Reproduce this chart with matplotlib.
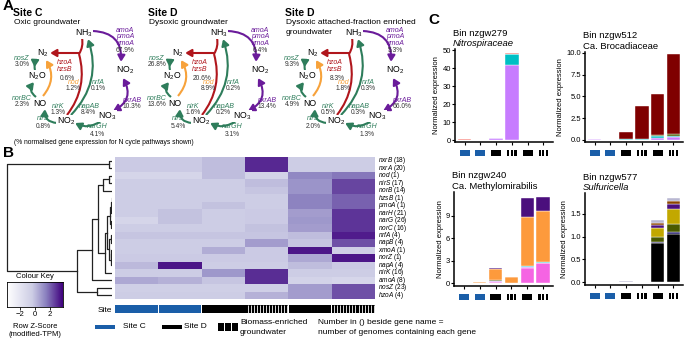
import numpy as np
import matplotlib
matplotlib.use('Agg')
import matplotlib.pyplot as plt
import matplotlib.transforms as mtransforms
from matplotlib.patches import FancyArrowPatch, Rectangle
from matplotlib.colors import LinearSegmentedColormap

plt.rcParams['font.family'] = ['Liberation Sans', 'DejaVu Sans']
plt.rcParams['mathtext.fontset'] = 'custom'
plt.rcParams['mathtext.rm'] = 'Liberation Sans'
plt.rcParams['mathtext.it'] = 'Liberation Sans:italic'

W, H = 685, 339

# ---------------- panel A data (% normalised expression)
path_genes = ['amoA\npmoA\nxmoA', 'nosZ', 'hzoA\nhzsB', 'nod', 'nrfA', 'nxrAB',
              'norBC', 'nirK', 'napAB', 'nirS', 'narGH']
pct_site_c = [67.9, 3.0, 0.6, 1.2, 0.1, 10.3, 2.3, 1.3, 8.4, 0.8, 4.1]
pct_site_d = [6.4, 26.8, 20.6, 8.9, 0.2, 13.4, 13.6, 1.6, 0.2, 5.4, 3.1]
pct_site_d_att = [5.3, 9.3, 8.3, 1.8, 0.3, 66.0, 4.9, 0.5, 0.3, 2.0, 1.3]

# ---------------- panel B data (row z-scores)
hm_genes = ['nxrB', 'nxrA', 'nod', 'nirS', 'norB', 'hzsB', 'pmoA', 'narH', 'narG', 'norC',
            'nrfA', 'napB', 'xmoA', 'norZ', 'napA', 'nirK', 'amoA', 'nosZ', 'hzoA']
hm_counts = [18, 20, 1, 17, 14, 1, 1, 21, 26, 16, 4, 4, 1, 1, 4, 16, 8, 23, 4]
hm_z = [
    [-0.3, -0.3, 0.0, 3.0, -0.4, -0.4],
    [-0.3, -0.3, 0.0, 3.0, -0.4, -0.4],
    [-0.9, -0.9, 0.0, -0.8, 1.3, 1.6],
    [-0.4, -0.4, -0.4, 0.0, 1.0, 2.5],
    [-0.4, -0.4, -0.4, -0.2, 1.0, 2.5],
    [-0.4, -0.4, -0.4, -0.4, 1.4, 2.0],
    [-0.4, -0.4, -0.1, -0.4, 1.4, 2.0],
    [-0.4, -0.1, -0.4, -0.3, 0.8, 2.8],
    [-0.9, -0.1, -0.4, -0.3, 0.9, 2.8],
    [-0.4, -0.4, -0.4, -0.1, 0.8, 2.8],
    [-0.2, -0.2, -0.2, -0.2, 0.0, 3.2],
    [-0.4, -0.4, -0.4, 0.8, -0.2, 2.3],
    [-0.4, -0.4, 0.4, -0.3, 3.3, -0.5],
    [-0.3, -0.3, -0.3, -0.3, 0.5, 3.3],
    [0.1, 3.3, -0.4, -0.4, 0.0, -0.3],
    [-0.4, -0.4, 0.9, 2.9, -0.4, -0.4],
    [0.5, 0.3, -0.2, 2.9, -0.8, -1.0],
    [-0.5, -0.5, -0.5, -0.5, 0.8, 2.3],
    [-0.4, -0.4, -0.4, 0.3, 0.8, 2.3],
]
sample_site = ['C', 'C', 'D', 'D', 'D', 'D']
sample_enriched = [False, False, False, True, False, True]

# dendrogram: (height, left, right)
row_tree = (10.5, (0.3, 'nxrB', 'nxrA'),
            (3.5,
             (2.0,
              (1.4,
               (0.9, (0.3, 'nod', 'nirS'), 'norB'),
               (0.7,
                (0.5,
                 (0.25, (0.1, (0.05, 'hzsB', 'pmoA'), 'narH'), (0.08, 'narG', 'norC')),
                 (0.3, (0.12, 'nrfA', 'napB'), (0.15, (0.06, 'xmoA', 'norZ'), 'napA'))),
                'nirK')),
              'amoA'),
             (1.5, 'nosZ', 'hzoA')))

# ---------------- panel C data
g279 = ['amoA', 'hao', 'nirK', 'nxrA', 'nxrB']
c279 = ['#f8766d', '#8fffc8', '#7cae00', '#00bfc4', '#c77cff']
v279 = [[0.4, 0.05, 0.0, 0.4, 0.0, 0.0],
        [0.0, 0.05, 0.0, 0.0, 0.05, 0.05],
        [0.0, 0.0, 0.05, 0.1, 0.0, 0.0],
        [0.0, 0.0, 0.1, 6.2, 0.05, 0.05],
        [0.0, 0.0, 1.1, 41.5, 0.0, 0.0]]

g512 = ['hzoA', 'norC', 'nxrA', 'nxrB']
c512 = ['#7f0000', '#4a5a00', '#00bfc4', '#c77cff']
v512 = [[0.0, 0.0, 0.85, 3.7, 4.75, 9.2],
        [0.0, 0.0, 0.0, 0.02, 0.1, 0.15],
        [0.02, 0.05, 0.03, 0.08, 0.2, 0.2],
        [0.1, 0.0, 0.03, 0.05, 0.25, 0.3]]

g240 = ['nirS', 'nod', 'norZ', 'nxrA', 'nxrB', 'pmoA']
c240 = ['#4b0f7d', '#fd9a3c', '#4a5a00', '#00bfc4', '#c77cff', '#f564e3']
v240 = [[0.0, 0.0, 0.1, 0.0, 2.5, 1.8],
        [0.1, 0.2, 1.5, 0.9, 6.6, 6.8],
        [0.0, 0.0, 0.05, 0.0, 0.05, 0.05],
        [0.0, 0.0, 0.0, 0.0, 0.05, 0.1],
        [0.0, 0.0, 0.15, 0.0, 0.1, 0.05],
        [0.0, 0.0, 0.2, 0.0, 2.1, 2.7]]

g577 = ['narG', 'narH', 'nirS', 'norB', 'norC', 'nosD', 'nosZ']
c577 = ['#b9b8d2', '#8b4500', '#4b0f7d', '#c2a800', '#4a5a00', '#1b1464', '#000000']
v577 = [[0.01, 0.004, 0.006, 0.004, 0.06, 0.06],
        [0.0, 0.0, 0.005, 0.005, 0.04, 0.07],
        [0.0, 0.0, 0.005, 0.0, 0.06, 0.11],
        [0.0, 0.0, 0.0, 0.0, 0.2, 0.31],
        [0.0, 0.0, 0.0, 0.0, 0.11, 0.18],
        [0.0, 0.0, 0.0, 0.0, 0.03, 0.05],
        [0.0, 0.0, 0.005, 0.0, 0.86, 1.06]]

BLUE = '#1a5ea8'
PURPLE = '#6a1b9a'
GREEN = '#2e7d5b'
RED = '#b0161c'
ORANGE = '#f7a23b'
GENE_COL = [PURPLE, GREEN, RED, ORANGE, GREEN, PURPLE, GREEN, GREEN, GREEN, GREEN, GREEN]


def px_rect(x0, y0, x1, y1):
    return [x0 / W, 1 - y1 / H, (x1 - x0) / W, (y1 - y0) / H]


fig = plt.figure(figsize=(6.85, 3.39), dpi=100)
ov = fig.add_axes([0, 0, 1, 1])
ov.set_xlim(0, W)
ov.set_ylim(H, 0)
ov.axis('off')

# ---------------- panel A
nodes = {'NH$_3$': (84, 33), 'N$_2$': (43, 53), 'N$_2$O': (37, 76), 'NO': (40, 103),
         'NO$_2$': (66, 121), 'NO$_3$': (107, 116), 'NO$_2$ ': (125, 70)}
# label anchor (first line of name, pct) for each gene in path_genes
label_pos = [((125, 30), (125, 50)), ((22, 58), (22, 65)), ((65, 63), (67, 78)),
             ((74, 82), (73, 89)), ((98, 82), (98, 89)), ((132, 100), (132, 107)),
             ((22, 98), (22, 105)), ((58, 106), (58, 112)), ((89, 106), (88, 113)),
             ((43, 119), (43, 126)), ((97, 127), (97, 134))]
cycle_arrows = [
    ((93, 31), (121, 62), -0.5, PURPLE, '-|>'),
    ((123, 78), (113, 111), -0.5, PURPLE, '<|-|>'),
    ((101, 121), (75, 123), -0.3, GREEN, '-|>'),
    ((71, 115), (88, 39), 0.3, GREEN, '-|>'),
    ((57, 123), (45, 109), -0.5, GREEN, '-|>'),
    ((36, 97), (34, 82), -0.5, GREEN, '-|>'),
    ((35, 70), (40, 59), -0.4, GREEN, '-|>'),
    ((43, 96), (46, 60), 0.35, ORANGE, '-|>'),
    ((67, 115), (79, 54), 0.25, RED, '-'),
    ((82, 38), (79, 54), -0.2, RED, '-'),
    ((79, 53), (50, 53), 0.0, RED, '-|>'),
]


def draw_cycle(dx, pcts):
    for (x0, y0), (x1, y1), rad, col, st in cycle_arrows:
        if st == '-':
            style = '-'
        else:
            style = st + ',head_length=0.7,head_width=0.4'
        ov.add_patch(FancyArrowPatch((x0 + dx, y0), (x1 + dx, y1), arrowstyle=style,
                                     connectionstyle='arc3,rad=%s' % rad, mutation_scale=5.5,
                                     lw=1.5, color=col, shrinkA=0, shrinkB=0,
                                     capstyle='butt'))
    for name, (x, y) in nodes.items():
        ov.text(x + dx, y, name, ha='center', va='center', fontsize=6.3,
                bbox=dict(boxstyle='square,pad=0.05', fc='white', ec='none'))
    for g, p, ((xn, yn), (xp, yp)), col in zip(path_genes, pcts, label_pos, GENE_COL):
        for k, line in enumerate(g.split('\n')):
            ov.text(xn + dx, yn + 6.8 * k, line, ha='center', va='center', fontsize=5,
                    style='italic', color=col)
        ov.text(xp + dx, yp, '%.1f%%' % p, ha='center', va='center', fontsize=4.8,
                color='#333333')


ov.text(3, 6, 'A', fontsize=11, fontweight='bold', va='center')
ov.text(13, 13, 'Site C', fontsize=7.5, fontweight='bold', va='center')
ov.text(14, 23, 'Oxic groundwater', fontsize=6, va='center')
ov.text(148, 13, 'Site D', fontsize=7.5, fontweight='bold', va='center')
ov.text(149, 23, 'Dysoxic groundwater', fontsize=6, va='center')
ov.text(285, 13, 'Site D', fontsize=7.5, fontweight='bold', va='center')
ov.text(286, 23, 'Dysoxic attached-fraction enriched', fontsize=6, va='center')
ov.text(286, 32, 'groundwater', fontsize=6, va='center')
draw_cycle(0, pct_site_c)
draw_cycle(135, pct_site_d)
draw_cycle(270, pct_site_d_att)
ov.text(14, 142, '(% normalised gene expression for N cycle pathways shown)', fontsize=4.8,
        va='center')

# ---------------- panel B
ov.text(3, 153, 'B', fontsize=11, fontweight='bold', va='center')
cmap = LinearSegmentedColormap.from_list('zkey', [(0, '#ffffff'), (0.45, '#cdcde5'),
                                                  (0.7, '#8a80bf'), (1, '#3f007d')])
zmin, zmax = -3.7, 3.7
hm = fig.add_axes(px_rect(115, 157, 375, 299))
z = np.array(hm_z)
hm.pcolormesh(np.arange(7), np.arange(20), z, cmap=cmap, vmin=zmin, vmax=zmax)
hm.set_xlim(0, 6)
hm.set_ylim(19, 0)
hm.axis('off')
for i, (g, n) in enumerate(zip(hm_genes, hm_counts)):
    hm.text(6.08, i + 0.5, r'$\it{%s}$ (%d)' % (g, n), va='center', ha='left', fontsize=4.7,
            clip_on=False)

# dendrogram
dn = fig.add_axes(px_rect(5, 157, 112, 299))
leaf_y = {g: i + 0.5 for i, g in enumerate(hm_genes)}


def draw_tree(node):
    if isinstance(node, str):
        return leaf_y[node], 0.0
    h, left, right = node
    yl, hl = draw_tree(left)
    yr, hr = draw_tree(right)
    dn.plot([hl, h, h, hr], [yl, yl, yr, yr], color='#222222', lw=0.9)
    return (yl + yr) / 2, h


draw_tree(row_tree)
dn.set_xlim(10.7, 0)
dn.set_ylim(19, 0)
dn.axis('off')

# site colour bar
sb = fig.add_axes(px_rect(115, 305, 375, 313))
for i, (s, e) in enumerate(zip(sample_site, sample_enriched)):
    sb.add_patch(Rectangle((i + 0.01, 0), 0.98, 1, color=BLUE if s == 'C' else 'black', lw=0))
    if e:
        sb.vlines(i + np.arange(0.06, 0.98, 0.07), 0, 1, color='white', lw=0.6)
sb.set_xlim(0, 6)
sb.set_ylim(0, 1)
sb.axis('off')
ov.text(112, 310, 'Site', fontsize=6, ha='right', va='center')

# legend under heatmap
ov.add_patch(Rectangle((95, 325), 20, 4, color=BLUE, lw=0))
ov.text(123, 327, 'Site C', fontsize=6, va='center')
ov.add_patch(Rectangle((162, 325), 20, 4, color='black', lw=0))
ov.text(184, 327, 'Site D', fontsize=6, va='center')
for k in range(3):
    ov.add_patch(Rectangle((218 + 7 * k, 323), 6, 8, color='black', lw=0))
ov.text(240, 322, 'Biomass-enriched', fontsize=6, va='center')
ov.text(240, 333, 'groundwater', fontsize=6, va='center')
ov.text(318, 322, 'Number in () beside gene name =', fontsize=6, va='center')
ov.text(318, 333, 'number of genomes containing each gene', fontsize=6, va='center')

# colour key
ck = fig.add_axes(px_rect(7, 282, 63, 307))
ck.imshow(np.linspace(zmin, zmax, 256)[None, :], aspect='auto', cmap=cmap,
          extent=[zmin, zmax, 0, 1])
ck.set_yticks([])
ck.set_xticks([-2, 0, 2])
ck.tick_params(axis='x', labelsize=5.5, length=2, width=0.6, pad=1)
for sp in ck.spines.values():
    sp.set_linewidth(0.6)
ov.text(35, 277, 'Colour Key', fontsize=5.5, ha='center', va='center')
ov.text(35, 326, 'Row Z-Score', fontsize=5.5, ha='center', va='center')
ov.text(35, 334, '(modified-TPM)', fontsize=5.5, ha='center', va='center')

# ---------------- panel C
ov.text(428, 20, 'C', fontsize=11, fontweight='bold', va='center')


def draw_bin(rect, title, taxon, italic, genes, colors, values, ylim, yticks, yticklabels,
             leg_x, leg_y, leg_dy):
    x0, y0, x1, y1 = rect
    ax = fig.add_axes(px_rect(*rect))
    xs = np.arange(6)
    bottom = np.zeros(6)
    for g, c, v in list(zip(genes, colors, values))[::-1]:
        v = np.array(v)
        ax.bar(xs, v, 0.85, bottom=bottom, color=c, edgecolor='white', lw=0.3)
        bottom += v
    ax.set_xlim(-0.62, 5.62)
    ax.set_ylim(*ylim)
    ax.set_yticks(yticks)
    ax.set_yticklabels(yticklabels)
    ax.set_xticks(xs)
    ax.set_xticklabels([])
    ax.tick_params(labelsize=5.5, length=2, width=0.8, pad=1)
    for s in ['top', 'right']:
        ax.spines[s].set_visible(False)
    for s in ['left', 'bottom']:
        ax.spines[s].set_linewidth(1.1)
    ax.set_ylabel('Normalized expression', fontsize=5.5, labelpad=1.5)
    # sample markers under the bars
    tr = mtransforms.blended_transform_factory(ax.transData, ax.transAxes)
    hfrac = 6.0 / (y1 - y0)
    yb = -10.5 / (y1 - y0) - hfrac / 2
    for x, s, e in zip(xs, sample_site, sample_enriched):
        col = BLUE if s == 'C' else 'black'
        if e:
            for k in range(3):
                ax.add_patch(Rectangle((x - 0.3 + 0.23 * k, yb), 0.14, hfrac, color=col,
                                       lw=0, transform=tr, clip_on=False))
        else:
            ax.add_patch(Rectangle((x - 0.32, yb), 0.64, hfrac, color=col, lw=0,
                                   transform=tr, clip_on=False))
    ov.text(x0 - 2, y0 - 16, title, fontsize=6.8, va='center')
    ov.text(x0 - 2, y0 - 5.5, taxon, fontsize=6.8, va='center',
            style='italic' if italic else 'normal')
    for k, (g, c) in enumerate(zip(genes, colors)):
        yy = leg_y + k * leg_dy
        ov.add_patch(Rectangle((leg_x, yy - 3.5), 8, 7, color=c, lw=0))
        ov.text(leg_x + 12, yy, g, fontsize=6, style='italic', va='center')
    return ax


draw_bin((455, 49, 553, 142), 'Bin nzgw279', 'Nitrospiraceae', True, g279, c279, v279,
         (-1.1, 50.6), [0, 10, 20, 30, 40, 50], ['0', '10', '20', '30', '40', '50'],
         457, 57, 10.7)
draw_bin((585, 52, 683, 142), 'Bin nzgw512', 'Ca. Brocadiaceae', False, g512, c512, v512,
         (-0.23, 10.1), [0, 2.5, 5, 7.5, 10], ['0.0', '2.5', '5.0', '7.5', '10.0'],
         589, 56, 10)
draw_bin((454, 192, 553, 286), 'Bin nzgw240', 'Ca. Methylomirabilis', False, g240, c240, v240,
         (-0.36, 12.2), [0, 3, 6, 9], ['0', '3', '6', '9'],
         458, 200, 9)
draw_bin((585, 193, 683, 285), 'Bin nzgw577', 'Sulfuricella', True, g577, c577, v577,
         (-0.06, 1.96), [0, 0.5, 1.0, 1.5], ['0.0', '0.5', '1.0', '1.5'],
         590, 199, 9.5)

fig.savefig('out.png', dpi=100)
